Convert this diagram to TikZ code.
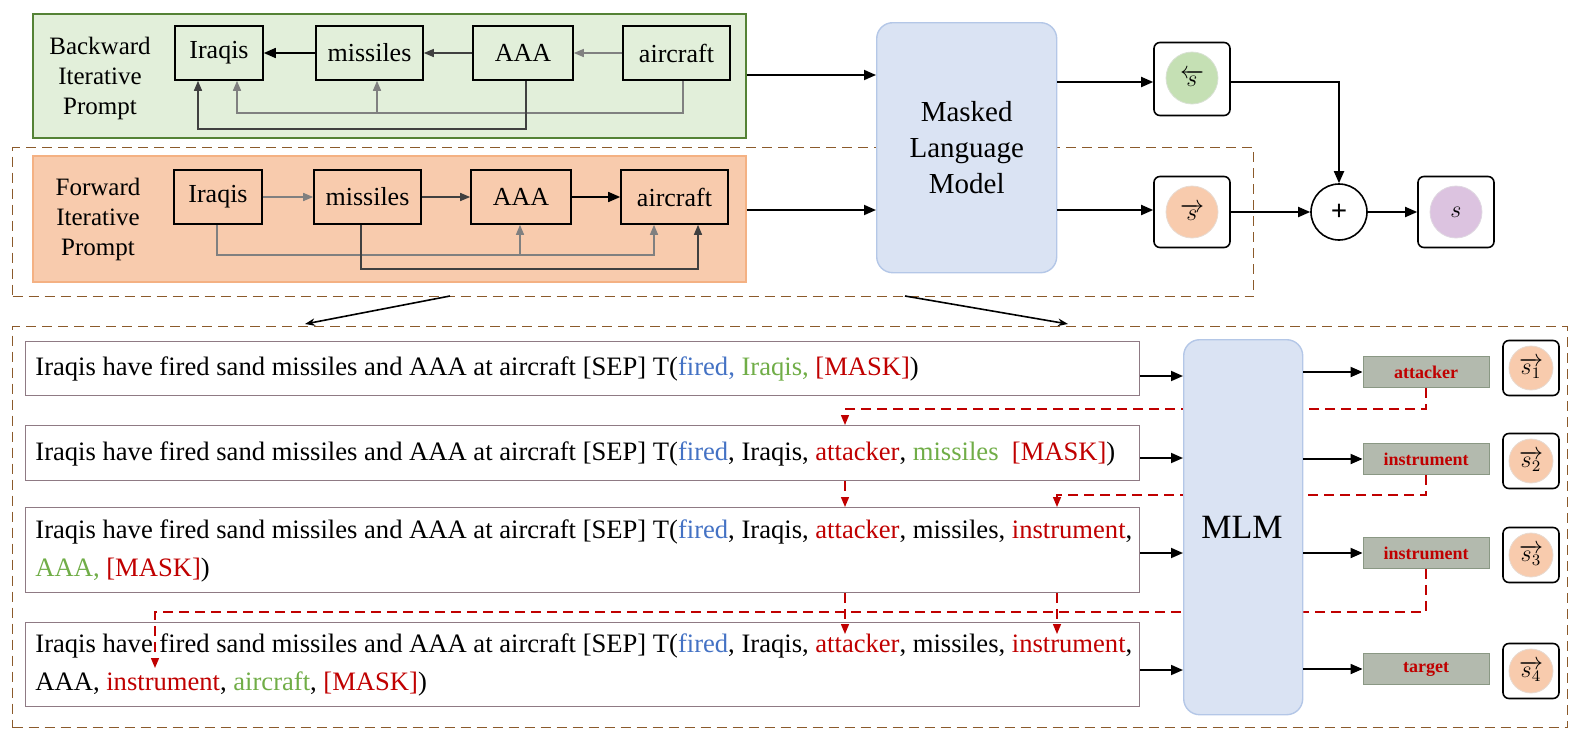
\documentclass[tikz,border=0pt]{standalone}
\usepackage{fontspec}
\setmainfont{Liberation Serif}
\usetikzlibrary{arrows.meta}
\definecolor{gfill}{HTML}{E2EFDA}\definecolor{gline}{HTML}{548235}
\definecolor{ofill}{HTML}{F8CBAD}\definecolor{oline}{HTML}{F4B183}
\definecolor{bfill}{HTML}{DAE3F3}\definecolor{bline}{HTML}{B4C7E7}
\definecolor{brown}{HTML}{8B5A2B}\definecolor{dred}{HTML}{C00000}
\definecolor{fblue}{HTML}{4472C4}\definecolor{fgreen}{HTML}{70AD47}
\definecolor{lfill}{HTML}{B3BAAE}\definecolor{lline}{HTML}{8A9884}
\definecolor{pfill}{HTML}{DCC3E0}\definecolor{cgreen}{HTML}{C5E0B4}
\definecolor{sline}{HTML}{8F7A84}
\begin{document}
\begin{tikzpicture}[x=0.5pt,y=-0.5pt,
 wbox/.style={draw,thick,minimum height=27pt,inner sep=0pt,font=\fontsize{13}{15}\selectfont},
 ar/.style={-{Triangle[length=6pt,width=5pt]},line width=0.9pt},
 arg/.style={-{Triangle[length=5pt,width=4pt]},line width=0.7pt,gray},
 ard/.style={-{Triangle[length=5pt,width=4pt]},line width=0.7pt,black!75},
 dbrown/.style={draw=brown,dashed,dash pattern=on 5pt off 3pt,line width=0.7pt},
 rdash/.style={dred,dashed,dash pattern=on 5pt off 3pt,line width=0.7pt},
 rar/.style={rdash,-{Triangle[length=5pt,width=4pt]}},
 sent/.style={draw=sline,line width=0.6pt,minimum width=557pt,anchor=north west,inner sep=0pt},
 stxt/.style={anchor=west,align=left,font=\fontsize{13.3}{19}\selectfont,inner sep=0pt},
 lab/.style={draw=lline,fill=lfill,minimum width=63pt,minimum height=15.5pt,inner sep=0pt,text=dred,font=\fontsize{9}{10}\selectfont\bfseries},
 sbox/.style={draw,thick,rounded corners=3pt,minimum width=28pt,minimum height=27pt},
 circ/.style={circle,fill=#1,draw=#1!80!black!40,minimum size=24pt,inner sep=0pt,font=\large}
]
\useasboundingbox (0,0) rectangle (1581,745);
% backward
\node[draw=gline,fill=gfill,line width=0.8pt,minimum width=356.5pt,minimum height=62pt,anchor=north west,inner sep=0pt] (gb) at (32,13) {};
\node[align=center,font=\fontsize{12.5}{15}\selectfont] (bl) at (100,78) {Backward\\Iterative\\Prompt};
\node[wbox,minimum width=44pt] (b1) at (219,53) {Iraqis};
\node[wbox,minimum width=53.5pt] (b2) at (369.5,53) {missiles};
\node[wbox,minimum width=50pt] (b3) at (523,53) {AAA};
\node[wbox,minimum width=53.5pt] (b4) at (676.5,53) {aircraft};
\draw[arg] (b4) -- (b3);
\draw[ard] (b3) -- (b2);
\draw[ar,line width=0.8pt] (b2) -- (b1);
\coordinate (bc1) at (683,113);\coordinate (bc2) at (237,113);\coordinate (bc3) at (377,113);
\draw[arg] (b4.south -| bc1) -- (bc1) -- (bc2) -- (b1.south -| bc2);
\draw[arg] (bc3) -- (b2.south -| bc3);
\coordinate (bd1) at (526,129);\coordinate (bd2) at (198,129);
\draw[ard] (b3.south -| bd1) -- (bd1) -- (bd2) -- (b1.south -| bd2);
% forward
\node[dbrown,minimum width=620.5pt,minimum height=74.5pt,anchor=north west,inner sep=0pt] (fd) at (12,147) {};
\node[draw=oline,fill=ofill,line width=0.8pt,minimum width=356.5pt,minimum height=63pt,anchor=north west,inner sep=0pt] (fb) at (32,155) {};
\node[align=center,font=\fontsize{12.5}{15}\selectfont] (fl) at (98,219) {Forward\\Iterative\\Prompt};
\node[wbox,minimum width=44pt] (f1) at (218,197) {Iraqis};
\node[wbox,minimum width=53.5pt] (f2) at (367.5,197) {missiles};
\node[wbox,minimum width=50pt] (f3) at (521,197) {AAA};
\node[wbox,minimum width=53.5pt] (f4) at (674.5,197) {aircraft};
\draw[arg] (f1) -- (f2);
\draw[ard] (f2) -- (f3);
\draw[ar,line width=0.8pt] (f3) -- (f4);
\coordinate (fc1) at (217,255);\coordinate (fc2) at (654,255);\coordinate (fc3) at (520,255);
\draw[arg] (f1.south -| fc1) -- (fc1) -- (fc2) -- (f4.south -| fc2);
\draw[arg] (fc3) -- (f3.south -| fc3);
\coordinate (fe1) at (361,269);\coordinate (fe2) at (698,269);
\draw[ard] (f2.south -| fe1) -- (fe1) -- (fe2) -- (f4.south -| fe2);
% MLM top
\node[draw=bline,fill=bfill,line width=0.7pt,rounded corners=8pt,minimum width=90pt,minimum height=125pt,anchor=north west,align=center,font=\fontsize{14.5}{18}\selectfont] (mlm) at (876,22) {Masked\\Language\\Model};
\draw[ar] (gb.east |- 0,75) -- (mlm.west |- 0,75);
\draw[ar] (fb.east |- 0,210) -- (mlm.west |- 0,210);
\node[sbox,minimum width=38pt,minimum height=36.5pt] (sb) at (1192,79) {};
\node[circ=cgreen,minimum size=26pt] (sbc) at (1192,78) {$\overleftarrow{\,s\,}$};
\node[sbox,minimum width=38pt,minimum height=35.5pt] (sf) at (1192,212) {};
\node[circ=ofill,minimum size=26pt] (sfc) at (1192,212) {$\overrightarrow{\,s\,}$};
\node[circle,draw,thick,minimum size=28pt,inner sep=0pt,font=\Large\bfseries] (plus) at (1339,212) {\textbf{+}};
\node[sbox,minimum width=38pt,minimum height=35.5pt] (so) at (1456,212) {};
\node[circ=pfill,minimum size=26pt] (soc) at (1456,212) {$s$};
\draw[ar] (mlm.east |- 0,82) -- (sb.west |- 0,82);
\draw[ar] (mlm.east |- 0,210) -- (sf.west |- 0,210);
\draw[ar] (sb.east |- 0,82) -| (plus.north);
\draw[ar] (sf.east) -- (plus.west);
\draw[ar] (plus.east) -- (so.west);
% bottom
\node[dbrown,minimum width=777.5pt,minimum height=200.5pt,anchor=north west,inner sep=0pt] (bd) at (12,326) {};
\coordinate (t1) at (305,324);\coordinate (t2) at (1068,324);
\draw[-{Stealth[length=5pt]},line width=0.8pt] (450,296) -- (t1);
\draw[-{Stealth[length=5pt]},line width=0.8pt] (905,296) -- (t2);
\node[sent,minimum height=27pt] (s1) at (25,341) {};
\node[sent,minimum height=27.5pt] (s2) at (25,425) {};
\node[sent,minimum height=42.5pt] (s3) at (25,507) {};
\node[sent,minimum height=42pt] (s4) at (25,622) {};
\def\pre{Iraqis have fired sand missiles and AAA at aircraft [SEP] T(}
\node[stxt] at (35,369) {\pre\textcolor{fblue}{fired,} \textcolor{fgreen}{Iraqis,} \textcolor{dred}{[MASK]})};
\node[stxt] at (35,454) {\pre\textcolor{fblue}{fired}, Iraqis, \textcolor{dred}{attacker}, \textcolor{fgreen}{missiles}\ \ \textcolor{dred}{[MASK]})};
\node[stxt] at (35,551) {\pre\textcolor{fblue}{fired}, Iraqis, \textcolor{dred}{attacker}, missiles, \textcolor{dred}{instrument},\\\textcolor{fgreen}{AAA,} \textcolor{dred}{[MASK]})};
\node[stxt] at (35,665) {\pre\textcolor{fblue}{fired}, Iraqis, \textcolor{dred}{attacker}, missiles, \textcolor{dred}{instrument},\\AAA, \textcolor{dred}{instrument}, \textcolor{fgreen}{aircraft}, \textcolor{dred}{[MASK]})};
\node[lab] (l1) at (1426,372) {attacker};
\node[lab] (l2) at (1426,459) {instrument};
\node[lab] (l3) at (1426,553) {instrument};
\node[lab] (l4) at (1426,669) {target};
% red feedback
\coordinate (r1) at (1426,409);\coordinate (r1b) at (845,409);
\draw[rar] (l1.south) -- (r1) -- (r1b) -- (s2.north -| r1b);
\coordinate (r2) at (1426,495);\coordinate (r2b) at (1057,495);
\draw[rar] (l2.south) -- (r2) -- (r2b) -- (s3.north -| r2b);
\draw[rar] (s2.south -| r1b) -- (s3.north -| r1b);
\coordinate (r3) at (1426,612);\coordinate (r3b) at (155,612);\coordinate (r3e) at (155,668);
\draw[rar] (l3.south) -- (r3) -- (r3b) -- (r3e);
\coordinate (r4) at (845,634);\coordinate (r5) at (1057,634);
\draw[rar] (s3.south -| r1b) -- (r4);
\draw[rar] (s3.south -| r2b) -- (r5);
% MLM bottom
\node[draw=bline,fill=bfill,line width=0.7pt,rounded corners=8pt,minimum width=59.5pt,minimum height=187.5pt,anchor=north west] (mlm2) at (1183,339) {};
\node[font=\fontsize{17}{19}\selectfont] (mt) at (1242,527) {MLM};
\foreach \i/\y in {1/376,2/458,3/553,4/670}{\draw[ar] (s\i.east |- 0,\y) -- (mlm2.west |- 0,\y);}
\foreach \i/\y in {1/372,2/459,3/553,4/669}{\draw[ar] (mlm2.east |- 0,\y) -- (l\i.west |- 0,\y);}
\foreach \i/\y in {1/368,2/461,3/555,4/671}{
 \node[sbox,minimum width=28pt,minimum height=27.5pt] (v\i) at (1531,\y) {};
 \node[circ=ofill,minimum size=22pt] (vc\i) at (1531,\y) {$\overrightarrow{s_{\i}}$};}
\end{tikzpicture}
\end{document}
